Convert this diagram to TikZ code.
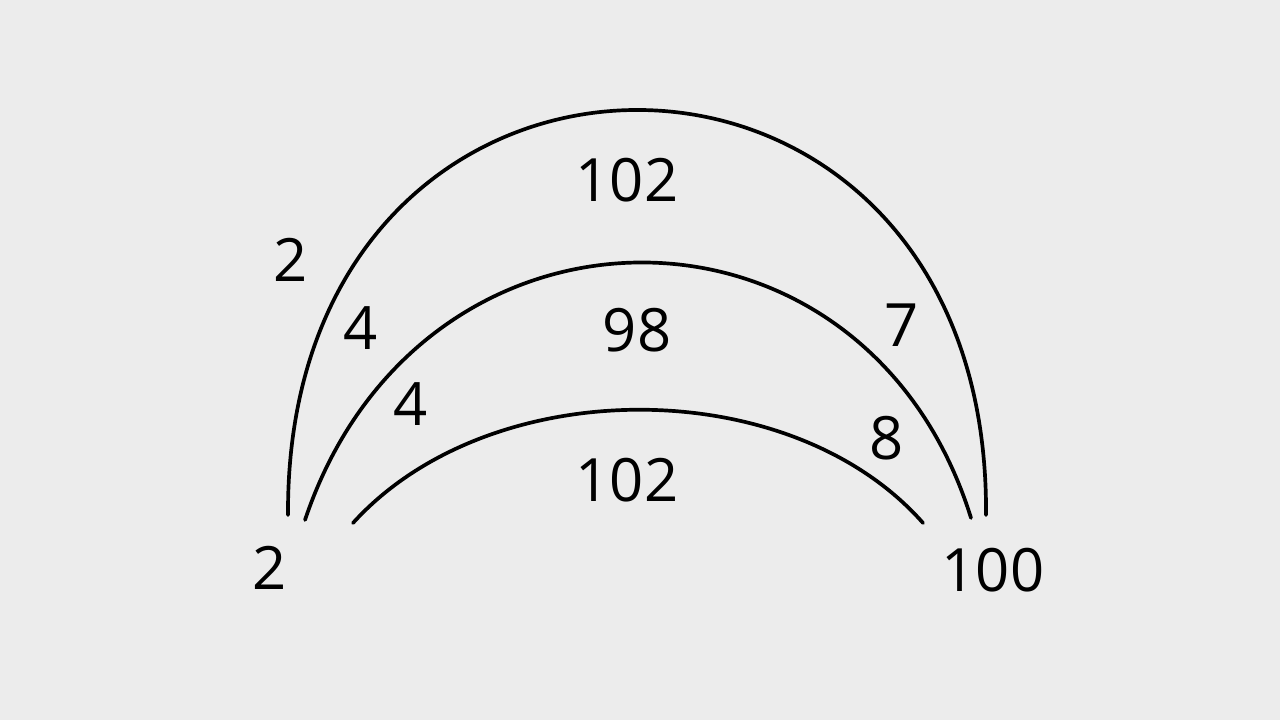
\documentclass[tikz,border=0pt]{standalone}
\usepackage{fontspec}
\setmainfont{Open Sans}
\definecolor{paper}{HTML}{ECECEC}
\tikzset{
  arc/.style={line width=1.05pt, line cap=round},
  num/.style={font=\fontsize{17}{19}\selectfont, inner sep=0pt}
}
\begin{document}
\begin{tikzpicture}
    \fill[paper] (0,0) rectangle (12.8,7.2);
    \useasboundingbox (0,0) rectangle (12.8,7.2);
    % arc ends
    \coordinate (oa) at (2.88,2.05);
    \coordinate (ob) at (9.86,2.05);
    \coordinate (ma) at (3.05,2.00);
    \coordinate (mb) at (9.71,2.02);
    \coordinate (ia) at (3.53,1.97);
    \coordinate (ib) at (9.23,1.97);
    % arcs
    \draw[arc] (oa) .. controls (2.85,7.45) and (9.90,7.45) .. (ob);
    \draw[arc] (ma) .. controls (4.20,5.43) and (8.65,5.43) .. (mb);
    \draw[arc] (ia) .. controls (4.90,3.48) and (7.90,3.48) .. (ib);
    % labels
    \node[num] (top) at (6.27,5.40) {102};
    \node[num] (mid) at (6.37,3.90) {98};
    \node[num] (low) at (6.27,2.40) {102};
    \node[num] (lo) at (2.91,4.60) {2};
    \node[num] (lm) at (3.61,3.92) {4};
    \node[num] (li) at (4.11,3.16) {4};
    \node[num] (rm) at (9.02,3.95) {7};
    \node[num] (ri) at (8.87,2.82) {8};
    \node[num] (start) at (2.70,1.52) {2};
    \node[num] (end) at (9.93,1.50) {100};
\end{tikzpicture}
\end{document}
